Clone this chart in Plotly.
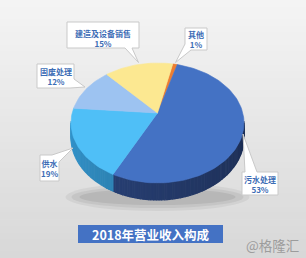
import math
import plotly.graph_objects as go

# ---- data ----
labels = ["其他", "污水处理", "供水", "固废处理", "建造及设备销售"]
values = [1, 53, 19, 12, 15]
top_colors = ["#ED7D31", "#4472C4", "#4FBFF7", "#9DC3F1", "#FCE891"]
side_colors = ["#B85E22", "#243A6A", "#2A7AA8", "#6E90BB", "#C7B56A"]
title_text = "2018年营业收入构成"
watermark = "@格隆汇"

W, H = 306, 258
CX, CY = 157.5, 113.0      # projected pie centre (px)
A, B, K = 85.3, 58.3, 1 / 6  # perspective ellipse params
DEPTH = 17.0
START = 78.0


def proj(theta_deg):
    t = math.radians(theta_deg)
    d = 1 + K * math.sin(t)
    return CX + A * math.cos(t) / d, CY - B * math.sin(t) / d


def depth_at(theta_deg):
    t = math.radians(theta_deg)
    return DEPTH * (1 - K) / (1 + K * math.sin(t))


def shade(hexc, m):
    r, g, b = int(hexc[1:3], 16), int(hexc[3:5], 16), int(hexc[5:7], 16)
    f = lambda v: max(0, min(255, int(round(v * m))))
    return "#%02x%02x%02x" % (f(r), f(g), f(b))


fig = go.Figure()

# background gradient
shapes = []
n_bands = 40
for i in range(n_bands):
    y0 = H * i / n_bands
    y1 = H * (i + 1) / n_bands + 0.5
    v = int(round(244 - (244 - 216) * i / (n_bands - 1)))
    shapes.append(dict(type="rect", xref="x", yref="y", x0=0, x1=W, y0=y0, y1=y1,
                       fillcolor="rgb(%d,%d,%d)" % (v, v, v), line=dict(width=0), layer="below"))

# soft shadow below pie
for rx, ry, op in [(92, 14, 0.05), (86, 11, 0.06), (78, 8, 0.07)]:
    shapes.append(dict(type="circle", xref="x", yref="y", x0=CX - rx, x1=CX + rx,
                       y0=197 - ry, y1=197 + ry, fillcolor="rgba(0,0,0,%.2f)" % op,
                       line=dict(width=0), layer="below"))

# slice angle ranges (clockwise)
ranges = []
a0 = START
for v in values:
    a1 = a0 - 360.0 * v / 100.0
    ranges.append((a0, a1))
    a0 = a1

# sides (front half), drawn as thin shaded strips
for (a_start, a_end), sc in zip(ranges, side_colors):
    lo, hi = a_end, a_start
    for off in (0, 360, -360):
        s = max(lo + off, 188.0)
        e = min(hi + off, 352.0)
        if e <= s:
            continue
        nseg = max(1, int((e - s) / 1.5))
        for j in range(nseg):
            t0 = s + (e - s) * j / nseg
            t1 = s + (e - s) * (j + 1) / nseg
            ts = [t0, (t0 + t1) / 2, t1]
            top = [proj(t) for t in ts]
            bot = [(x, y + depth_at(t)) for (x, y), t in zip(top, ts)]
            xs = [p[0] for p in top] + [p[0] for p in reversed(bot)]
            ys = [p[1] for p in top] + [p[1] for p in reversed(bot)]
            tm = (t0 + t1) / 2
            m = 1 + (270 - tm) / 80 * 0.22
            col = shade(sc, m)
            fig.add_trace(go.Scatter(x=xs, y=ys, mode="lines", fill="toself",
                                     fillcolor=col, line=dict(color=col, width=1.2),
                                     hoverinfo="skip", showlegend=False))

# tops
for (a_start, a_end), tc, lab in zip(ranges, top_colors, labels):
    n = max(4, int(abs(a_start - a_end) / 2))
    pts = [proj(a_start + (a_end - a_start) * q / n) for q in range(n + 1)]
    xs = [CX] + [p[0] for p in pts] + [CX]
    ys = [CY] + [p[1] for p in pts] + [CY]
    fig.add_trace(go.Scatter(x=xs, y=ys, mode="lines", fill="toself", fillcolor=tc,
                             line=dict(color=tc, width=0.6), name=lab,
                             hoverinfo="skip", showlegend=False))

# callouts (bubble paths)
bubbles = [
    "M185,28 L207,28 L207,50 L191,50 L175.5,62.5 L185,44 Z",
    "M242,172 L245,172 L243,134 L257,172 L278,172 L278,195 L242,195 Z",
    "M40,155 L52,155 L73,148 L59,162 L59,181 L40,181 Z",
    "M37,64 L74,64 L74,79 L85,87 L70,88 L37,88 Z",
    "M67,22 L139,22 L139,48 L132,48 L138.5,62.5 L125,48 L67,48 Z",
]
label_pos = [(196, 39.5), (260, 184), (49.5, 168.5), (55.5, 76.5), (103, 38.5)]
for path in bubbles:
    shapes.append(dict(type="path", xref="x", yref="y", path=path, fillcolor="white",
                       line=dict(color="#C9C9C9", width=1), layer="above"))

annotations = []
for lab, v, (x, y) in zip(labels, values, label_pos):
    annotations.append(dict(x=x, y=y, xref="x", yref="y", showarrow=False,
                            text="<b>%s</b><br><b>%d%%</b>" % (lab, v),
                            font=dict(family="Noto Sans CJK SC", size=8, color="#3D6DB5"),
                            align="center"))

# title box
shapes.append(dict(type="rect", xref="x", yref="y", x0=78, x1=223, y0=225, y1=243,
                   fillcolor="#4472C4", line=dict(width=0), layer="above"))
annotations.append(dict(x=150.5, y=234, xref="x", yref="y", showarrow=False,
                        text="<b>%s</b>" % title_text,
                        font=dict(family="Noto Sans CJK SC", size=12.5, color="white")))
annotations.append(dict(x=272, y=245, xref="x", yref="y", showarrow=False,
                        text=watermark,
                        font=dict(family="Noto Sans CJK SC", size=13.5, color="#9C9C9C")))

fig.update_layout(
    width=W, height=H, margin=dict(l=0, r=0, t=0, b=0),
    paper_bgcolor="#EAEAEA", plot_bgcolor="rgba(0,0,0,0)",
    xaxis=dict(range=[0, W], visible=False, fixedrange=True),
    yaxis=dict(range=[H, 0], visible=False, fixedrange=True),
    shapes=shapes, annotations=annotations, showlegend=False,
)

fig.write_html("out.html", config={"displayModeBar": False})
